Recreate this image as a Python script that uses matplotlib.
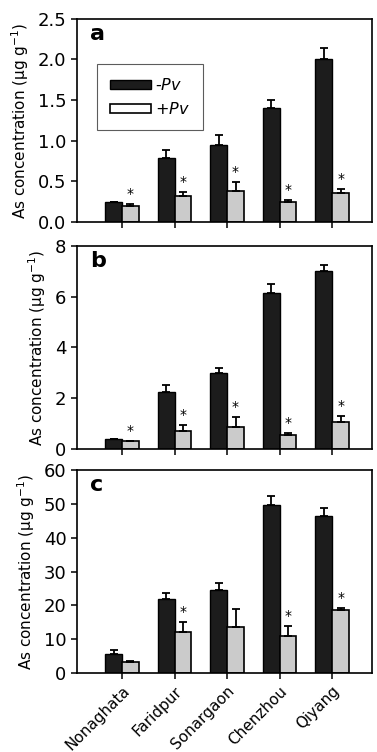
import numpy as np
import matplotlib
matplotlib.use('Agg')
import matplotlib.pyplot as plt

plt.rcParams['font.family'] = ['DejaVu Sans']
plt.rcParams['mathtext.fontset'] = 'dejavusans'

sites = ['Nonaghata', 'Faridpur', 'Sonargaon', 'Chenzhou', 'Qiyang']

# panel a
a_minus = [0.24, 0.79, 0.94, 1.40, 2.00]
a_minus_err = [0.01, 0.10, 0.13, 0.10, 0.14]
a_plus = [0.20, 0.32, 0.38, 0.24, 0.36]
a_plus_err = [0.02, 0.05, 0.11, 0.03, 0.04]
a_star = [True, True, True, True, True]

# panel b
b_minus = [0.38, 2.24, 2.98, 6.15, 7.02]
b_minus_err = [0.03, 0.29, 0.20, 0.35, 0.24]
b_plus = [0.31, 0.70, 0.86, 0.55, 1.08]
b_plus_err = [0.01, 0.26, 0.40, 0.09, 0.21]
b_star = [True, True, True, True, True]

# panel c
c_minus = [5.7, 22.0, 24.5, 49.8, 46.3]
c_minus_err = [1.0, 1.6, 2.2, 2.6, 2.5]
c_plus = [3.2, 12.2, 13.5, 11.0, 18.7]
c_plus_err = [0.5, 2.8, 5.3, 2.9, 0.4]
c_star = [False, True, False, True, True]

panels = [
    ('a', a_minus, a_minus_err, a_plus, a_plus_err, a_star, 2.5, np.arange(0, 2.51, 0.5), '%.1f'),
    ('b', b_minus, b_minus_err, b_plus, b_plus_err, b_star, 8, np.arange(0, 8.1, 2), '%d'),
    ('c', c_minus, c_minus_err, c_plus, c_plus_err, c_star, 60, np.arange(0, 61, 10), '%d'),
]

fig = plt.figure(figsize=(3.77, 7.52), dpi=100)
bottoms = [0.705, 0.403, 0.105]
x = np.arange(len(sites))
w = 0.32

for (lab, mn, mn_err, pl, pl_err, star, ymax, yt, fmt), bot in zip(panels, bottoms):
    ax = fig.add_axes([0.204, bot, 0.783, 0.270])
    ax.bar(x - w / 2, mn, w, color='#1c1c1c', edgecolor='black', linewidth=1.0,
           yerr=[np.zeros(5), mn_err], capsize=3,
           error_kw=dict(ecolor='black', elinewidth=1.3, capthick=1.3), label='-$Pv$', zorder=2)
    ax.bar(x + w / 2, pl, w, color='#cbcbcb', edgecolor='black', linewidth=1.2,
           yerr=[np.zeros(5), pl_err], capsize=3,
           error_kw=dict(ecolor='black', elinewidth=1.3, capthick=1.3), label='+$Pv$', zorder=2)
    for i in range(len(sites)):
        if star[i]:
            ax.text(x[i] + w / 2, pl[i] + pl_err[i] + 0.015 * ymax, '*',
                    ha='center', va='bottom', fontsize=10)
    ax.set_xlim(-0.86, 4.76)
    ax.set_ylim(0, ymax)
    ax.set_yticks(yt)
    ax.set_yticklabels([fmt % v for v in yt], fontsize=13)
    ax.set_xticks(x)
    ax.tick_params(direction='out', length=4, width=1.1)
    for s in ax.spines.values():
        s.set_linewidth(1.2)
    ax.set_ylabel('As concentration (μg g$^{-1}$)', fontsize=11, labelpad=5)
    ax.text(0.045, 0.975, lab, transform=ax.transAxes, ha='left', va='top',
            fontsize=16, fontweight='bold')
    if lab == 'c':
        ax.set_xticklabels(sites, rotation=45, ha='right', rotation_mode='anchor', fontsize=11)
    else:
        ax.set_xticklabels([])
    if lab == 'a':
        leg = ax.legend(loc='upper left', bbox_to_anchor=(0.068, 0.775), fontsize=11.5,
                        handlelength=2.6, handleheight=0.5, fancybox=False,
                        borderpad=0.8, labelspacing=0.5, handletextpad=0.25,
                        borderaxespad=0)
        leg.get_frame().set_edgecolor('#333333')
        leg.get_frame().set_linewidth(0.8)
        leg.legend_handles[1].set_facecolor('white')
        leg.set_zorder(5)

fig.savefig('out.png', dpi=100)
